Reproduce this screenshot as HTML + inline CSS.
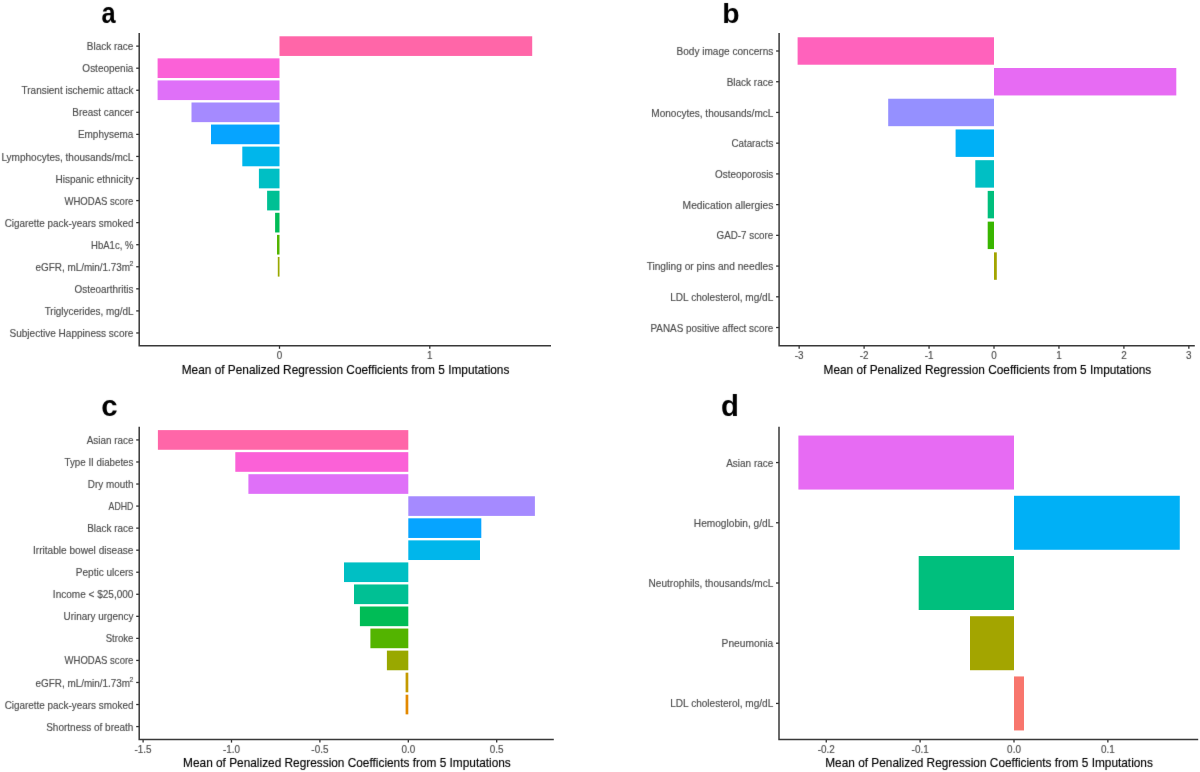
<!DOCTYPE html><html><head><meta charset="utf-8"><style>html,body{margin:0;padding:0;background:#fff;}svg{display:block;will-change:transform;}text{font-family:"Liberation Sans",sans-serif;}.lb{stroke:#4D4D4D;stroke-width:0.15px;}.tt{stroke:#000;stroke-width:0.15px;}</style></head><body>
<svg width="1200" height="772" viewBox="0 0 1200 772">
<defs><filter id="tb" x="0" y="0" width="1200" height="772" filterUnits="userSpaceOnUse" color-interpolation-filters="sRGB"><feConvolveMatrix order="3" kernelMatrix="0.0052 0.0619 0.0052 0.0619 0.7314 0.0619 0.0052 0.0619 0.0052" divisor="1" edgeMode="none" preserveAlpha="false"/></filter></defs>
<rect x="0" y="0" width="1200" height="772" fill="#fff"/>
<g><rect x="279.50" y="36.29" width="252.70" height="19.66" fill="#FF66A8"/><rect x="157.60" y="58.36" width="121.90" height="19.66" fill="#FB61D7"/><rect x="157.60" y="80.42" width="121.90" height="19.66" fill="#DF70F8"/><rect x="191.50" y="102.49" width="88.00" height="19.66" fill="#A58AFF"/><rect x="211.00" y="124.55" width="68.50" height="19.66" fill="#06A4FF"/><rect x="242.30" y="146.62" width="37.20" height="19.66" fill="#00B6EB"/><rect x="258.90" y="168.68" width="20.60" height="19.66" fill="#00BFC4"/><rect x="267.10" y="190.75" width="12.40" height="19.66" fill="#00C094"/><rect x="275.10" y="212.81" width="4.40" height="19.66" fill="#00BC56"/><rect x="277.00" y="234.88" width="2.50" height="19.66" fill="#53B400"/><rect x="277.80" y="256.94" width="1.70" height="19.66" fill="#99A800"/><line x1="136.20" y1="46.12" x2="139.20" y2="46.12" stroke="#333333" stroke-width="1.3"/><line x1="136.20" y1="68.19" x2="139.20" y2="68.19" stroke="#333333" stroke-width="1.3"/><line x1="136.20" y1="90.25" x2="139.20" y2="90.25" stroke="#333333" stroke-width="1.3"/><line x1="136.20" y1="112.31" x2="139.20" y2="112.31" stroke="#333333" stroke-width="1.3"/><line x1="136.20" y1="134.38" x2="139.20" y2="134.38" stroke="#333333" stroke-width="1.3"/><line x1="136.20" y1="156.44" x2="139.20" y2="156.44" stroke="#333333" stroke-width="1.3"/><line x1="136.20" y1="178.51" x2="139.20" y2="178.51" stroke="#333333" stroke-width="1.3"/><line x1="136.20" y1="200.58" x2="139.20" y2="200.58" stroke="#333333" stroke-width="1.3"/><line x1="136.20" y1="222.64" x2="139.20" y2="222.64" stroke="#333333" stroke-width="1.3"/><line x1="136.20" y1="244.71" x2="139.20" y2="244.71" stroke="#333333" stroke-width="1.3"/><line x1="136.20" y1="266.77" x2="139.20" y2="266.77" stroke="#333333" stroke-width="1.3"/><line x1="136.20" y1="288.83" x2="139.20" y2="288.83" stroke="#333333" stroke-width="1.3"/><line x1="136.20" y1="310.90" x2="139.20" y2="310.90" stroke="#333333" stroke-width="1.3"/><line x1="136.20" y1="332.97" x2="139.20" y2="332.97" stroke="#333333" stroke-width="1.3"/><line x1="279.50" y1="345.80" x2="279.50" y2="348.80" stroke="#333333" stroke-width="1.3"/><line x1="429.80" y1="345.80" x2="429.80" y2="348.80" stroke="#333333" stroke-width="1.3"/><path d="M139.20,32.90 L139.20,345.80 L551.00,345.80" fill="none" stroke="#383838" stroke-width="1.5" stroke-linejoin="miter" stroke-linecap="butt"/></g>
<g><rect x="797.60" y="37.27" width="196.40" height="27.45" fill="#FF62BC"/><rect x="994.00" y="68.00" width="182.30" height="27.45" fill="#E76BF3"/><rect x="888.20" y="98.73" width="105.80" height="27.45" fill="#9590FF"/><rect x="955.60" y="129.45" width="38.40" height="27.45" fill="#00B0F6"/><rect x="975.30" y="160.18" width="18.70" height="27.45" fill="#00BFC4"/><rect x="987.70" y="190.90" width="6.30" height="27.45" fill="#00BF7D"/><rect x="987.70" y="221.63" width="6.30" height="27.45" fill="#39B600"/><rect x="994.00" y="252.36" width="2.80" height="27.45" fill="#A3A500"/><line x1="776.10" y1="51.00" x2="779.10" y2="51.00" stroke="#333333" stroke-width="1.3"/><line x1="776.10" y1="81.73" x2="779.10" y2="81.73" stroke="#333333" stroke-width="1.3"/><line x1="776.10" y1="112.45" x2="779.10" y2="112.45" stroke="#333333" stroke-width="1.3"/><line x1="776.10" y1="143.18" x2="779.10" y2="143.18" stroke="#333333" stroke-width="1.3"/><line x1="776.10" y1="173.90" x2="779.10" y2="173.90" stroke="#333333" stroke-width="1.3"/><line x1="776.10" y1="204.63" x2="779.10" y2="204.63" stroke="#333333" stroke-width="1.3"/><line x1="776.10" y1="235.36" x2="779.10" y2="235.36" stroke="#333333" stroke-width="1.3"/><line x1="776.10" y1="266.08" x2="779.10" y2="266.08" stroke="#333333" stroke-width="1.3"/><line x1="776.10" y1="296.81" x2="779.10" y2="296.81" stroke="#333333" stroke-width="1.3"/><line x1="776.10" y1="327.53" x2="779.10" y2="327.53" stroke="#333333" stroke-width="1.3"/><line x1="799.15" y1="345.80" x2="799.15" y2="348.80" stroke="#333333" stroke-width="1.3"/><line x1="864.10" y1="345.80" x2="864.10" y2="348.80" stroke="#333333" stroke-width="1.3"/><line x1="929.05" y1="345.80" x2="929.05" y2="348.80" stroke="#333333" stroke-width="1.3"/><line x1="994.00" y1="345.80" x2="994.00" y2="348.80" stroke="#333333" stroke-width="1.3"/><line x1="1058.95" y1="345.80" x2="1058.95" y2="348.80" stroke="#333333" stroke-width="1.3"/><line x1="1123.90" y1="345.80" x2="1123.90" y2="348.80" stroke="#333333" stroke-width="1.3"/><line x1="1188.85" y1="345.80" x2="1188.85" y2="348.80" stroke="#333333" stroke-width="1.3"/><path d="M779.10,32.90 L779.10,345.80 L1194.80,345.80" fill="none" stroke="#383838" stroke-width="1.5" stroke-linejoin="miter" stroke-linecap="butt"/></g>
<g><rect x="157.90" y="430.11" width="250.40" height="19.65" fill="#FF66A8"/><rect x="235.30" y="452.16" width="173.00" height="19.65" fill="#FB61D7"/><rect x="248.40" y="474.21" width="159.90" height="19.65" fill="#DF70F8"/><rect x="408.30" y="496.26" width="126.60" height="19.65" fill="#A58AFF"/><rect x="408.30" y="518.31" width="73.00" height="19.65" fill="#06A4FF"/><rect x="408.30" y="540.36" width="71.70" height="19.65" fill="#00B6EB"/><rect x="344.00" y="562.41" width="64.30" height="19.65" fill="#00BFC4"/><rect x="354.00" y="584.46" width="54.30" height="19.65" fill="#00C094"/><rect x="359.90" y="606.51" width="48.40" height="19.65" fill="#00BC56"/><rect x="370.40" y="628.56" width="37.90" height="19.65" fill="#53B400"/><rect x="386.90" y="650.61" width="21.40" height="19.65" fill="#99A800"/><rect x="405.60" y="672.66" width="2.70" height="19.65" fill="#C49A00"/><rect x="405.60" y="694.71" width="2.70" height="19.65" fill="#E38900"/><line x1="136.20" y1="439.93" x2="139.20" y2="439.93" stroke="#333333" stroke-width="1.3"/><line x1="136.20" y1="461.98" x2="139.20" y2="461.98" stroke="#333333" stroke-width="1.3"/><line x1="136.20" y1="484.03" x2="139.20" y2="484.03" stroke="#333333" stroke-width="1.3"/><line x1="136.20" y1="506.08" x2="139.20" y2="506.08" stroke="#333333" stroke-width="1.3"/><line x1="136.20" y1="528.13" x2="139.20" y2="528.13" stroke="#333333" stroke-width="1.3"/><line x1="136.20" y1="550.18" x2="139.20" y2="550.18" stroke="#333333" stroke-width="1.3"/><line x1="136.20" y1="572.23" x2="139.20" y2="572.23" stroke="#333333" stroke-width="1.3"/><line x1="136.20" y1="594.28" x2="139.20" y2="594.28" stroke="#333333" stroke-width="1.3"/><line x1="136.20" y1="616.33" x2="139.20" y2="616.33" stroke="#333333" stroke-width="1.3"/><line x1="136.20" y1="638.38" x2="139.20" y2="638.38" stroke="#333333" stroke-width="1.3"/><line x1="136.20" y1="660.43" x2="139.20" y2="660.43" stroke="#333333" stroke-width="1.3"/><line x1="136.20" y1="682.48" x2="139.20" y2="682.48" stroke="#333333" stroke-width="1.3"/><line x1="136.20" y1="704.53" x2="139.20" y2="704.53" stroke="#333333" stroke-width="1.3"/><line x1="136.20" y1="726.58" x2="139.20" y2="726.58" stroke="#333333" stroke-width="1.3"/><line x1="143.10" y1="739.60" x2="143.10" y2="742.60" stroke="#333333" stroke-width="1.3"/><line x1="231.50" y1="739.60" x2="231.50" y2="742.60" stroke="#333333" stroke-width="1.3"/><line x1="319.90" y1="739.60" x2="319.90" y2="742.60" stroke="#333333" stroke-width="1.3"/><line x1="408.30" y1="739.60" x2="408.30" y2="742.60" stroke="#333333" stroke-width="1.3"/><line x1="496.70" y1="739.60" x2="496.70" y2="742.60" stroke="#333333" stroke-width="1.3"/><path d="M139.20,426.70 L139.20,739.60 L553.80,739.60" fill="none" stroke="#383838" stroke-width="1.5" stroke-linejoin="miter" stroke-linecap="butt"/></g>
<g><rect x="798.40" y="435.56" width="215.60" height="54.00" fill="#E76BF3"/><rect x="1014.00" y="495.78" width="165.80" height="54.00" fill="#00B0F6"/><rect x="918.70" y="556.00" width="95.30" height="54.00" fill="#00BF7D"/><rect x="970.00" y="616.22" width="44.00" height="54.00" fill="#A3A500"/><rect x="1014.00" y="676.44" width="10.00" height="54.00" fill="#F8766D"/><line x1="776.00" y1="462.56" x2="779.00" y2="462.56" stroke="#333333" stroke-width="1.3"/><line x1="776.00" y1="522.78" x2="779.00" y2="522.78" stroke="#333333" stroke-width="1.3"/><line x1="776.00" y1="583.00" x2="779.00" y2="583.00" stroke="#333333" stroke-width="1.3"/><line x1="776.00" y1="643.22" x2="779.00" y2="643.22" stroke="#333333" stroke-width="1.3"/><line x1="776.00" y1="703.44" x2="779.00" y2="703.44" stroke="#333333" stroke-width="1.3"/><line x1="826.26" y1="739.60" x2="826.26" y2="742.60" stroke="#333333" stroke-width="1.3"/><line x1="920.13" y1="739.60" x2="920.13" y2="742.60" stroke="#333333" stroke-width="1.3"/><line x1="1014.00" y1="739.60" x2="1014.00" y2="742.60" stroke="#333333" stroke-width="1.3"/><line x1="1107.87" y1="739.60" x2="1107.87" y2="742.60" stroke="#333333" stroke-width="1.3"/><path d="M779.00,426.70 L779.00,739.60 L1198.20,739.60" fill="none" stroke="#383838" stroke-width="1.5" stroke-linejoin="miter" stroke-linecap="butt"/></g>
<g filter="url(#tb)"><text transform="translate(133.40,50.17) scale(1,1.08)" font-size="9.9" fill="#4D4D4D" text-anchor="end" class="lb" textLength="46.62" lengthAdjust="spacingAndGlyphs">Black race</text>
<text transform="translate(133.40,72.23) scale(1,1.08)" font-size="9.9" fill="#4D4D4D" text-anchor="end" class="lb" textLength="51.04" lengthAdjust="spacingAndGlyphs">Osteopenia</text>
<text transform="translate(133.40,94.30) scale(1,1.08)" font-size="9.9" fill="#4D4D4D" text-anchor="end" class="lb" textLength="111.82" lengthAdjust="spacingAndGlyphs">Transient ischemic attack</text>
<text transform="translate(133.40,116.36) scale(1,1.08)" font-size="9.9" fill="#4D4D4D" text-anchor="end" class="lb">Breast cancer</text>
<text transform="translate(133.40,138.43) scale(1,1.08)" font-size="9.9" fill="#4D4D4D" text-anchor="end" class="lb" textLength="55.52" lengthAdjust="spacingAndGlyphs">Emphysema</text>
<text transform="translate(133.40,160.50) scale(1,1.08)" font-size="9.9" fill="#4D4D4D" text-anchor="end" class="lb" textLength="132.00" lengthAdjust="spacingAndGlyphs">Lymphocytes, thousands/mcL</text>
<text transform="translate(133.40,182.56) scale(1,1.08)" font-size="9.9" fill="#4D4D4D" text-anchor="end" class="lb" textLength="77.93" lengthAdjust="spacingAndGlyphs">Hispanic ethnicity</text>
<text transform="translate(133.40,204.63) scale(1,1.08)" font-size="9.9" fill="#4D4D4D" text-anchor="end" class="lb" textLength="69.01" lengthAdjust="spacingAndGlyphs">WHODAS score</text>
<text transform="translate(133.40,226.69) scale(1,1.08)" font-size="9.9" fill="#4D4D4D" text-anchor="end" class="lb">Cigarette pack-years smoked</text>
<text transform="translate(133.40,248.76) scale(1,1.08)" font-size="9.9" fill="#4D4D4D" text-anchor="end" class="lb" textLength="42.32" lengthAdjust="spacingAndGlyphs">HbA1c, %</text>
<text transform="translate(133.40,271.22) scale(1,1.08)" font-size="9.9" fill="#4D4D4D" text-anchor="end" class="lb">eGFR, mL/min/1.73m<tspan font-size="6.9" dx="-0.5" dy="-4.5">2</tspan></text>
<text transform="translate(133.40,292.88) scale(1,1.08)" font-size="9.9" fill="#4D4D4D" text-anchor="end" class="lb">Osteoarthritis</text>
<text transform="translate(133.40,314.95) scale(1,1.08)" font-size="9.9" fill="#4D4D4D" text-anchor="end" class="lb">Triglycerides, mg/dL</text>
<text transform="translate(133.40,337.02) scale(1,1.08)" font-size="9.9" fill="#4D4D4D" text-anchor="end" class="lb" textLength="123.97" lengthAdjust="spacingAndGlyphs">Subjective Happiness score</text>
<text transform="translate(279.50,358.90) scale(1,1.08)" font-size="9.9" fill="#4D4D4D" text-anchor="middle" class="lb">0</text>
<text transform="translate(429.80,358.90) scale(1,1.08)" font-size="9.9" fill="#4D4D4D" text-anchor="middle" class="lb">1</text>
<text transform="translate(345.55,373.60) scale(1,1.08)" font-size="11.85" fill="#000" text-anchor="middle" class="tt">Mean of Penalized Regression Coefficients from 5 Imputations</text>
<text transform="translate(101.50,22.50) scale(0.94,1.096)" font-size="27" fill="#000" text-anchor="start" font-weight="bold" class="tg">a</text>
<text transform="translate(773.30,55.05) scale(1,1.08)" font-size="9.9" fill="#4D4D4D" text-anchor="end" class="lb" textLength="96.80" lengthAdjust="spacingAndGlyphs">Body image concerns</text>
<text transform="translate(773.30,85.78) scale(1,1.08)" font-size="9.9" fill="#4D4D4D" text-anchor="end" class="lb" textLength="46.62" lengthAdjust="spacingAndGlyphs">Black race</text>
<text transform="translate(773.30,116.50) scale(1,1.08)" font-size="9.9" fill="#4D4D4D" text-anchor="end" class="lb" textLength="121.96" lengthAdjust="spacingAndGlyphs">Monocytes, thousands/mcL</text>
<text transform="translate(773.30,147.23) scale(1,1.08)" font-size="9.9" fill="#4D4D4D" text-anchor="end" class="lb" textLength="41.87" lengthAdjust="spacingAndGlyphs">Cataracts</text>
<text transform="translate(773.30,177.95) scale(1,1.08)" font-size="9.9" fill="#4D4D4D" text-anchor="end" class="lb">Osteoporosis</text>
<text transform="translate(773.30,208.68) scale(1,1.08)" font-size="9.9" fill="#4D4D4D" text-anchor="end" class="lb" textLength="90.70" lengthAdjust="spacingAndGlyphs">Medication allergies</text>
<text transform="translate(773.30,239.41) scale(1,1.08)" font-size="9.9" fill="#4D4D4D" text-anchor="end" class="lb" textLength="56.72" lengthAdjust="spacingAndGlyphs">GAD-7 score</text>
<text transform="translate(773.30,270.13) scale(1,1.08)" font-size="9.9" fill="#4D4D4D" text-anchor="end" class="lb" textLength="126.67" lengthAdjust="spacingAndGlyphs">Tingling or pins and needles</text>
<text transform="translate(773.30,300.86) scale(1,1.08)" font-size="9.9" fill="#4D4D4D" text-anchor="end" class="lb" textLength="103.04" lengthAdjust="spacingAndGlyphs">LDL cholesterol, mg/dL</text>
<text transform="translate(773.30,331.58) scale(1,1.08)" font-size="9.9" fill="#4D4D4D" text-anchor="end" class="lb">PANAS positive affect score</text>
<text transform="translate(799.15,358.90) scale(1,1.08)" font-size="9.9" fill="#4D4D4D" text-anchor="middle" class="lb">-3</text>
<text transform="translate(864.10,358.90) scale(1,1.08)" font-size="9.9" fill="#4D4D4D" text-anchor="middle" class="lb">-2</text>
<text transform="translate(929.05,358.90) scale(1,1.08)" font-size="9.9" fill="#4D4D4D" text-anchor="middle" class="lb">-1</text>
<text transform="translate(994.00,358.90) scale(1,1.08)" font-size="9.9" fill="#4D4D4D" text-anchor="middle" class="lb">0</text>
<text transform="translate(1058.95,358.90) scale(1,1.08)" font-size="9.9" fill="#4D4D4D" text-anchor="middle" class="lb">1</text>
<text transform="translate(1123.90,358.90) scale(1,1.08)" font-size="9.9" fill="#4D4D4D" text-anchor="middle" class="lb">2</text>
<text transform="translate(1188.85,358.90) scale(1,1.08)" font-size="9.9" fill="#4D4D4D" text-anchor="middle" class="lb">3</text>
<text transform="translate(987.40,373.60) scale(1,1.08)" font-size="11.85" fill="#000" text-anchor="middle" class="tt">Mean of Penalized Regression Coefficients from 5 Imputations</text>
<text transform="translate(722.30,22.50) scale(1.05,1.05)" font-size="27" fill="#000" text-anchor="start" font-weight="bold" class="tg">b</text>
<text transform="translate(133.40,443.98) scale(1,1.08)" font-size="9.9" fill="#4D4D4D" text-anchor="end" class="lb">Asian race</text>
<text transform="translate(133.40,466.03) scale(1,1.08)" font-size="9.9" fill="#4D4D4D" text-anchor="end" class="lb" textLength="68.84" lengthAdjust="spacingAndGlyphs">Type II diabetes</text>
<text transform="translate(133.40,488.08) scale(1,1.08)" font-size="9.9" fill="#4D4D4D" text-anchor="end" class="lb">Dry mouth</text>
<text transform="translate(133.40,510.13) scale(1,1.08)" font-size="9.9" fill="#4D4D4D" text-anchor="end" class="lb" textLength="24.85" lengthAdjust="spacingAndGlyphs">ADHD</text>
<text transform="translate(133.40,532.18) scale(1,1.08)" font-size="9.9" fill="#4D4D4D" text-anchor="end" class="lb">Black race</text>
<text transform="translate(133.40,554.23) scale(1,1.08)" font-size="9.9" fill="#4D4D4D" text-anchor="end" class="lb" textLength="100.40" lengthAdjust="spacingAndGlyphs">Irritable bowel disease</text>
<text transform="translate(133.40,576.28) scale(1,1.08)" font-size="9.9" fill="#4D4D4D" text-anchor="end" class="lb" textLength="57.72" lengthAdjust="spacingAndGlyphs">Peptic ulcers</text>
<text transform="translate(133.40,598.33) scale(1,1.08)" font-size="9.9" fill="#4D4D4D" text-anchor="end" class="lb" textLength="80.53" lengthAdjust="spacingAndGlyphs">Income &lt; $25,000</text>
<text transform="translate(133.40,620.38) scale(1,1.08)" font-size="9.9" fill="#4D4D4D" text-anchor="end" class="lb">Urinary urgency</text>
<text transform="translate(133.40,642.43) scale(1,1.08)" font-size="9.9" fill="#4D4D4D" text-anchor="end" class="lb" textLength="27.71" lengthAdjust="spacingAndGlyphs">Stroke</text>
<text transform="translate(133.40,664.48) scale(1,1.08)" font-size="9.9" fill="#4D4D4D" text-anchor="end" class="lb" textLength="68.81" lengthAdjust="spacingAndGlyphs">WHODAS score</text>
<text transform="translate(133.40,686.93) scale(1,1.08)" font-size="9.9" fill="#4D4D4D" text-anchor="end" class="lb">eGFR, mL/min/1.73m<tspan font-size="6.9" dx="-0.5" dy="-4.5">2</tspan></text>
<text transform="translate(133.40,708.58) scale(1,1.08)" font-size="9.9" fill="#4D4D4D" text-anchor="end" class="lb">Cigarette pack-years smoked</text>
<text transform="translate(133.40,730.63) scale(1,1.08)" font-size="9.9" fill="#4D4D4D" text-anchor="end" class="lb" textLength="87.20" lengthAdjust="spacingAndGlyphs">Shortness of breath</text>
<text transform="translate(143.10,752.70) scale(1,1.08)" font-size="9.9" fill="#4D4D4D" text-anchor="middle" class="lb">-1.5</text>
<text transform="translate(231.50,752.70) scale(1,1.08)" font-size="9.9" fill="#4D4D4D" text-anchor="middle" class="lb">-1.0</text>
<text transform="translate(319.90,752.70) scale(1,1.08)" font-size="9.9" fill="#4D4D4D" text-anchor="middle" class="lb">-0.5</text>
<text transform="translate(408.30,752.70) scale(1,1.08)" font-size="9.9" fill="#4D4D4D" text-anchor="middle" class="lb">0.0</text>
<text transform="translate(496.70,752.70) scale(1,1.08)" font-size="9.9" fill="#4D4D4D" text-anchor="middle" class="lb">0.5</text>
<text transform="translate(346.95,767.40) scale(1,1.08)" font-size="11.85" fill="#000" text-anchor="middle" class="tt">Mean of Penalized Regression Coefficients from 5 Imputations</text>
<text transform="translate(101.15,415.70) scale(1.09,1.125)" font-size="27" fill="#000" text-anchor="start" font-weight="bold" class="tg">c</text>
<text transform="translate(773.30,466.61) scale(1,1.08)" font-size="9.9" fill="#4D4D4D" text-anchor="end" class="lb" textLength="47.17" lengthAdjust="spacingAndGlyphs">Asian race</text>
<text transform="translate(773.30,526.83) scale(1,1.08)" font-size="9.9" fill="#4D4D4D" text-anchor="end" class="lb" textLength="79.50" lengthAdjust="spacingAndGlyphs">Hemoglobin, g/dL</text>
<text transform="translate(773.30,587.05) scale(1,1.08)" font-size="9.9" fill="#4D4D4D" text-anchor="end" class="lb" textLength="124.72" lengthAdjust="spacingAndGlyphs">Neutrophils, thousands/mcL</text>
<text transform="translate(773.30,647.27) scale(1,1.08)" font-size="9.9" fill="#4D4D4D" text-anchor="end" class="lb" textLength="51.69" lengthAdjust="spacingAndGlyphs">Pneumonia</text>
<text transform="translate(773.30,707.49) scale(1,1.08)" font-size="9.9" fill="#4D4D4D" text-anchor="end" class="lb" textLength="103.04" lengthAdjust="spacingAndGlyphs">LDL cholesterol, mg/dL</text>
<text transform="translate(826.26,752.70) scale(1,1.08)" font-size="9.9" fill="#4D4D4D" text-anchor="middle" class="lb">-0.2</text>
<text transform="translate(920.13,752.70) scale(1,1.08)" font-size="9.9" fill="#4D4D4D" text-anchor="middle" class="lb">-0.1</text>
<text transform="translate(1014.00,752.70) scale(1,1.08)" font-size="9.9" fill="#4D4D4D" text-anchor="middle" class="lb">0.0</text>
<text transform="translate(1107.87,752.70) scale(1,1.08)" font-size="9.9" fill="#4D4D4D" text-anchor="middle" class="lb">0.1</text>
<text transform="translate(989.05,767.40) scale(1,1.08)" font-size="11.85" fill="#000" text-anchor="middle" class="tt">Mean of Penalized Regression Coefficients from 5 Imputations</text>
<text transform="translate(721.10,415.70) scale(1.085,1.062)" font-size="27" fill="#000" text-anchor="start" font-weight="bold" class="tg">d</text></g>
</svg></body></html>
